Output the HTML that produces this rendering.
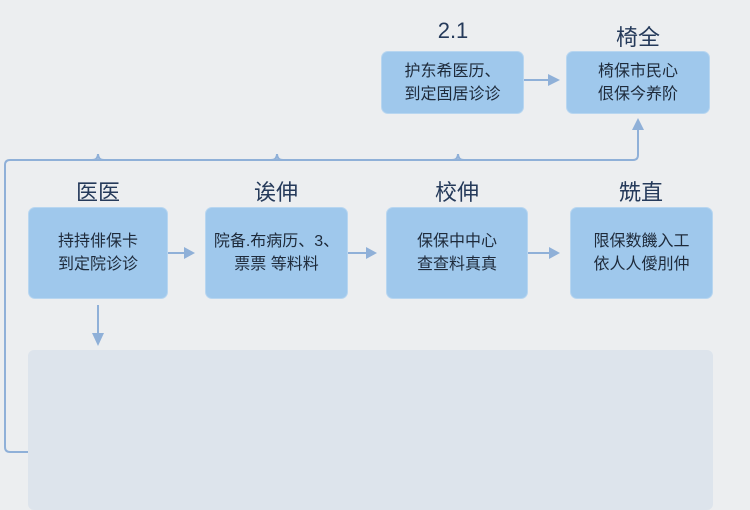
<!DOCTYPE html>
<html><head><meta charset="utf-8"><style>
body{margin:0;width:750px;height:500px;background:#eceef0;overflow:hidden;position:relative;font-family:"Liberation Sans","Noto Sans CJK SC",sans-serif;}
.b{position:absolute;background:#9fc8ec;border:1px solid #b8d6f0;border-radius:7px;box-sizing:border-box;display:flex;align-items:center;justify-content:center;text-align:center;font-size:16px;line-height:23px;color:#1e2a3a;}
.l{position:absolute;font-size:22px;color:#253a5a;text-align:center;width:140px;}
</style></head><body>
<div class="l" style="left:383px;top:18px">2.1</div>
<div class="l" style="left:568px;top:20px">椅全</div>
<div class="b" style="left:381px;top:51px;width:143px;height:63px">护东希医历、<br>到定固居诊诊</div>
<div class="b" style="left:566px;top:51px;width:144px;height:63px">椅保市民心<br>佷保今养阶</div>
<div class="l" style="left:28px;top:175px">医医</div>
<div class="l" style="left:206px;top:175px">诶伸</div>
<div class="l" style="left:387px;top:175px">校伸</div>
<div class="l" style="left:571px;top:175px">兟直</div>
<div class="b" style="left:28px;top:207px;width:140px;height:92px">持持俳保卡<br>到定院诊诊</div>
<div class="b" style="left:205px;top:207px;width:143px;height:92px">院备.布病历、3、<br>票票 等料料</div>
<div class="b" style="left:386px;top:207px;width:142px;height:92px">保保中中心<br>查查料真真</div>
<div class="b" style="left:570px;top:207px;width:143px;height:92px">限保数饑入工<br>依人人僾刖仲</div>
<div style="position:absolute;left:28px;top:350px;width:685px;height:160px;background:#dde4ec;border-radius:6px"></div>
<svg width="750" height="500" style="position:absolute;left:0;top:0">
<g stroke="#8fb0d8" stroke-width="2" fill="none">
<path d="M28 452 H10 Q5 452 5 447 V165 Q5 160 10 160 H633 Q638 160 638 155 V128"/>
<path d="M92 160 Q98 160 98 154 Q98 160 104 160 M271 160 Q277 160 277 154 Q277 160 283 160 M452 160 Q458 160 458 154 Q458 160 464 160"/>
<path d="M524 80 H548"/>
<path d="M168 253 H184 M348 253 H366 M528 253 H549"/>
<path d="M98 305 V335"/>
</g>
<g fill="#8fb0d8">
<path d="M548 74 L560 80 L548 86Z"/>
<path d="M632 130 L638 118 L644 130Z"/>
<path d="M184 247 L195 253 L184 259Z"/>
<path d="M366 247 L377 253 L366 259Z"/>
<path d="M549 247 L560 253 L549 259Z"/>
<path d="M92 333 L98 346 L104 333Z"/>
</g>
</svg>
</body></html>
